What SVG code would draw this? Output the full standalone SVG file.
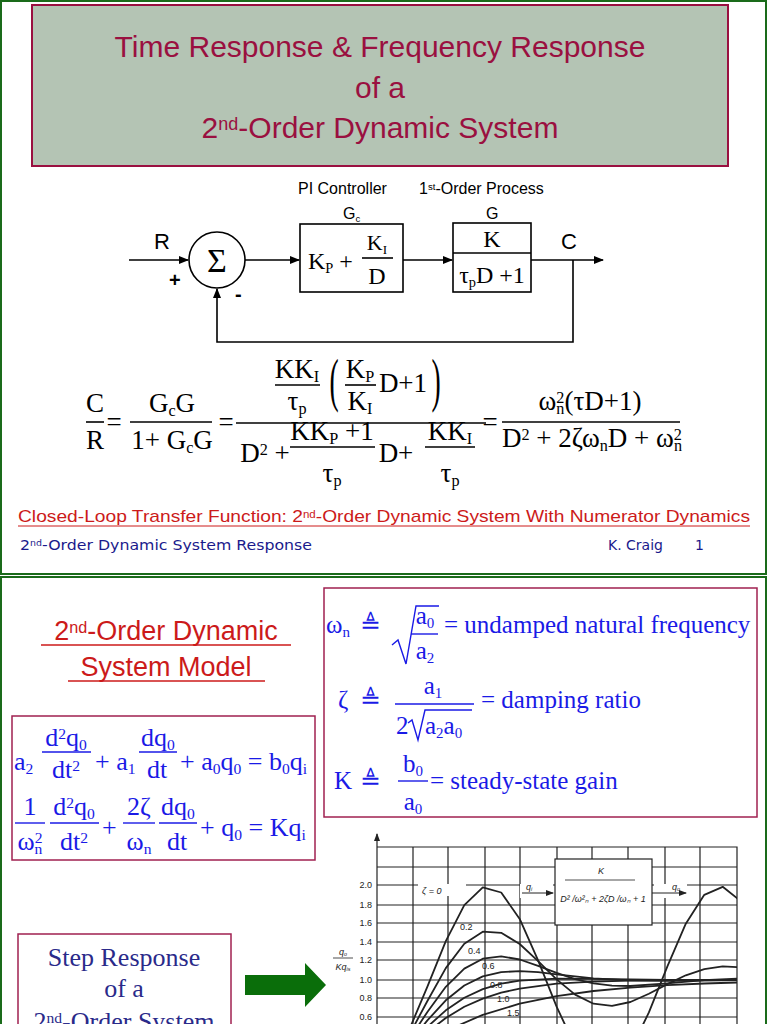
<svg xmlns="http://www.w3.org/2000/svg" width="768" height="1024" viewBox="0 0 768 1024">
<defs>
<style>
.ser{font-family:"Liberation Serif",serif}
.san{font-family:"Liberation Sans",Arial,sans-serif}
.sb{font-size:60%;baseline-shift:-28%}
.sp{font-size:60%;baseline-shift:45%}
.ln{stroke:#000;stroke-width:1.6;fill:none}
.bl{fill:#1a1ae6}
.bln{stroke:#1a1ae6;stroke-width:1.4;fill:none}
.grid{stroke:#222;stroke-width:1.2;fill:none}
.crv{stroke:#222;stroke-width:1.8;fill:none;stroke-linejoin:round}
.gl{font-family:"Liberation Sans",Arial,sans-serif;font-size:9px;fill:#222}
</style>
<marker id="ar" markerWidth="10" markerHeight="10" refX="9" refY="5" orient="auto" markerUnits="userSpaceOnUse"><path d="M0,1 L10,5 L0,9 z" fill="#000"/></marker>
<marker id="ar2" markerWidth="8" markerHeight="8" refX="7" refY="4" orient="auto" markerUnits="userSpaceOnUse"><path d="M0,1 L8,4 L0,7 z" fill="#222"/></marker>
<clipPath id="gc"><rect x="377" y="847" width="360" height="177"/></clipPath>
</defs>
<rect width="768" height="1024" fill="#fff"/>
<rect x="1" y="1" width="765" height="573" fill="none" stroke="#1a6b1a" stroke-width="2"/>
<path d="M1,1024 V577 H766 V1024" fill="none" stroke="#1a6b1a" stroke-width="2"/>

<g id="title">
<rect x="32" y="5" width="696" height="161" fill="#b4c4b4" stroke="#9a1040" stroke-width="2"/>
<g class="san" font-size="30" fill="#9a1040" text-anchor="middle">
<text x="380" y="57">Time Response &amp; Frequency Response</text>
<text x="380" y="98">of a</text>
<text x="380" y="138">2<tspan class="sp">nd</tspan>-Order Dynamic System</text>
</g>
</g>

<g id="labels" class="san" font-size="16">
<text x="298" y="194">PI Controller</text>
<text x="419" y="194">1<tspan class="sp">st</tspan>-Order Process</text>
<text x="343" y="219">G<tspan class="sb">c</tspan></text>
<text x="486" y="219">G</text>
<text x="154" y="249" font-size="22">R</text>
<text x="561" y="249" font-size="22">C</text>
<text x="169" y="287" font-size="20" font-weight="bold">+</text>
<text x="235" y="301" font-size="20" font-weight="bold">-</text>
</g>

<g id="sum">
<circle cx="217" cy="260" r="28" class="ln" stroke-width="2"/>
<text x="217" y="272" text-anchor="middle" class="ser" font-size="34">Σ</text>
</g>
<g id="pi">
<rect x="300" y="224" width="103" height="68" class="ln" stroke-width="2"/>
<text x="308" y="269" class="ser" font-size="24">K<tspan class="sb">P</tspan> +</text>
<text x="377" y="250" class="ser" font-size="22" text-anchor="middle">K<tspan class="sb">I</tspan></text>
<line x1="362" y1="258" x2="393" y2="258" class="ln" stroke-width="1.2"/>
<text x="377" y="284" class="ser" font-size="24" text-anchor="middle">D</text>
</g>
<g id="proc">
<rect x="453" y="223" width="78" height="69" class="ln" stroke-width="2"/>
<line x1="453" y1="253" x2="531" y2="253" class="ln" stroke-width="1"/>
<text x="492" y="247" class="ser" font-size="24" text-anchor="middle">K</text>
<text x="492" y="283" class="ser" font-size="24" text-anchor="middle">τ<tspan class="sb">p</tspan>D +1</text>
</g>
<g id="connectors" class="ln" stroke-width="2">
<line x1="129" y1="260" x2="188" y2="260" marker-end="url(#ar)"/>
<line x1="245" y1="260" x2="299" y2="260" marker-end="url(#ar)"/>
<line x1="403" y1="260" x2="452" y2="260" marker-end="url(#ar)"/>
<line x1="531" y1="260" x2="603" y2="260" marker-end="url(#ar)"/>
<polyline points="573,260 573,342 217,342 217,289" marker-end="url(#ar)"/>
</g>

<g id="tf" class="ser" font-size="27" text-anchor="middle">
<text x="95" y="412">C</text><line x1="86" y1="422" x2="104" y2="422" class="ln"/><text x="95" y="449">R</text>
<text x="114" y="431">=</text>
<text x="172" y="412">G<tspan class="sb">c</tspan>G</text><line x1="130" y1="422" x2="212" y2="422" class="ln"/><text x="172" y="449">1+ G<tspan class="sb">c</tspan>G</text>
<text x="226" y="431">=</text>
<text x="297" y="378">KK<tspan class="sb">I</tspan></text><line x1="275" y1="385" x2="320" y2="385" class="ln"/><text x="297" y="410">τ<tspan class="sb">p</tspan></text>
<text x="334" y="400" font-size="46" transform="translate(334 400) scale(0.6 1.3) translate(-334 -400)">(</text>
<text x="360" y="378">K<tspan class="sb">P</tspan></text><line x1="345" y1="385" x2="376" y2="385" class="ln"/><text x="360" y="410">K<tspan class="sb">I</tspan></text>
<text x="403" y="392">D+1</text>
<text x="436" y="400" font-size="46" transform="translate(436 400) scale(0.6 1.3) translate(-436 -400)">)</text>
<line x1="236" y1="423" x2="486" y2="423" class="ln"/>
<text x="265" y="462">D<tspan class="sp">2</tspan> +</text>
<text x="332" y="440">KK<tspan class="sb">P</tspan> +1</text><line x1="290" y1="447" x2="375" y2="447" class="ln"/><text x="332" y="482">τ<tspan class="sb">p</tspan></text>
<text x="396" y="462">D+</text>
<text x="450" y="440">KK<tspan class="sb">I</tspan></text><line x1="425" y1="447" x2="475" y2="447" class="ln"/><text x="450" y="482">τ<tspan class="sb">p</tspan></text>
<text x="490" y="431">=</text>
<text x="590" y="410">ω<tspan class="sp">2</tspan><tspan class="sb" dx="-8">n</tspan>(τD+1)</text>
<line x1="502" y1="422" x2="680" y2="422" class="ln"/>
<text x="592" y="447">D<tspan class="sp">2</tspan> + 2ζω<tspan class="sb">n</tspan>D + ω<tspan class="sp">2</tspan><tspan class="sb" dx="-8">n</tspan></text>
</g>

<g id="caption">
<text x="18" y="522" class="san" font-size="17" fill="#cc1a1a" textLength="732" lengthAdjust="spacingAndGlyphs">Closed-Loop Transfer Function: 2<tspan class="sp">nd</tspan>-Order Dynamic System With Numerator Dynamics</text>
<line x1="18" y1="526" x2="750" y2="526" stroke="#cc1a1a" stroke-width="1"/>
<g font-family="'DejaVu Sans',sans-serif" font-size="14" fill="#1a1a8c">
<text x="20" y="550" textLength="292" lengthAdjust="spacingAndGlyphs">2<tspan class="sp">nd</tspan>-Order Dynamic System Response</text>
<text x="608" y="550">K. Craig</text>
<text x="695" y="550">1</text>
</g>
</g>

<g id="model-title" class="san" font-size="27" fill="#cc1a1a" text-anchor="middle">
<text x="166" y="640">2<tspan class="sp">nd</tspan>-Order Dynamic</text>
<line x1="41" y1="645" x2="291" y2="645" stroke="#cc1a1a" stroke-width="1.5"/>
<text x="166" y="676">System Model</text>
<line x1="68" y1="681" x2="265" y2="681" stroke="#cc1a1a" stroke-width="1.5"/>
</g>

<g id="ode" class="ser bl" font-size="26">
<rect x="12" y="716" width="303" height="144" fill="none" stroke="#a02050" stroke-width="1.5"/>
<text x="14" y="770">a<tspan class="sb">2</tspan></text>
<text x="66" y="746" text-anchor="middle">d<tspan class="sp">2</tspan>q<tspan class="sb">0</tspan></text>
<line x1="42" y1="752" x2="91" y2="752" class="bln"/>
<text x="66" y="778" text-anchor="middle">dt<tspan class="sp">2</tspan></text>
<text x="95" y="770">+ a<tspan class="sb">1</tspan></text>
<text x="158" y="746" text-anchor="middle">dq<tspan class="sb">0</tspan></text>
<line x1="139" y1="752" x2="177" y2="752" class="bln"/>
<text x="157" y="778" text-anchor="middle">dt</text>
<text x="180" y="770">+ a<tspan class="sb">0</tspan>q<tspan class="sb">0</tspan> = b<tspan class="sb">0</tspan>q<tspan class="sb">i</tspan></text>
<text x="30" y="815" text-anchor="middle">1</text>
<line x1="15" y1="823" x2="45" y2="823" class="bln"/>
<text x="30" y="850" text-anchor="middle">ω<tspan class="sp">2</tspan><tspan class="sb" dx="-8">n</tspan></text>
<text x="74" y="815" text-anchor="middle">d<tspan class="sp">2</tspan>q<tspan class="sb">0</tspan></text>
<line x1="50" y1="823" x2="99" y2="823" class="bln"/>
<text x="74" y="850" text-anchor="middle">dt<tspan class="sp">2</tspan></text>
<text x="102" y="836">+</text>
<text x="139" y="815" text-anchor="middle">2ζ</text>
<line x1="123" y1="823" x2="155" y2="823" class="bln"/>
<text x="139" y="850" text-anchor="middle">ω<tspan class="sb">n</tspan></text>
<text x="178" y="815" text-anchor="middle">dq<tspan class="sb">0</tspan></text>
<line x1="159" y1="823" x2="197" y2="823" class="bln"/>
<text x="177" y="850" text-anchor="middle">dt</text>
<text x="200" y="836">+ q<tspan class="sb">0</tspan> = Kq<tspan class="sb">i</tspan></text>
</g>

<g id="defs-box" class="ser bl" font-size="25">
<rect x="324" y="588" width="433" height="229" fill="none" stroke="#a02050" stroke-width="1.5"/>
<text x="326" y="633">ω<tspan class="sb">n</tspan></text>
<text x="360" y="633">≜</text>
<path d="M392,645 l6,-5 l8,24 l10,-58 h23" class="bln" stroke-width="1.6"/>
<text x="425" y="624" text-anchor="middle">a<tspan class="sb">0</tspan></text>
<line x1="411" y1="634" x2="438" y2="634" class="bln"/>
<text x="425" y="659" text-anchor="middle">a<tspan class="sb">2</tspan></text>
<text x="444" y="633">= undamped natural frequency</text>
<text x="338" y="708">ζ</text>
<text x="360" y="708">≜</text>
<text x="433" y="694" text-anchor="middle">a<tspan class="sb">1</tspan></text>
<line x1="395" y1="704" x2="474" y2="704" class="bln" stroke-width="2"/>
<text x="396" y="734">2</text>
<path d="M408,723 l4,-3 l6,20 l7,-30 h47" class="bln" stroke-width="1.4"/>
<text x="425" y="734">a<tspan class="sb">2</tspan>a<tspan class="sb">0</tspan></text>
<text x="481" y="708">= damping ratio</text>
<text x="334" y="789">K</text>
<text x="360" y="789">≜</text>
<text x="413" y="772" text-anchor="middle">b<tspan class="sb">0</tspan></text>
<line x1="398" y1="781" x2="428" y2="781" class="bln"/>
<text x="413" y="810" text-anchor="middle">a<tspan class="sb">0</tspan></text>
<text x="430" y="789">= steady-state gain</text>
</g>

<g id="step-box">
<rect x="18" y="934" width="213" height="100" fill="none" stroke="#a02050" stroke-width="1.5"/>
<g class="ser" font-size="26" fill="#2a2a8a" text-anchor="middle">
<text x="124" y="966">Step Response</text>
<text x="124" y="997">of a</text>
<text x="124" y="1030">2<tspan class="sp">nd</tspan>-Order System</text>
</g>
</g>
<g id="green-arrow"><path d="M245,975 H305 V963 L326,985 L305,1007 V995 H245 Z" fill="#0a6e0a"/></g>

<g id="chart">
<g class="grid">
<path d="M377,847 H737 V1024 M377,867 H737 M377,885 H737 M377,905 H737 M377,923 H737 M377,942 H737 M377,960 H737 M377,980 H737 M377,998 H737 M377,1017 H737"/>
<path d="M413,847 V1024 M448,847 V1024 M485,847 V1024 M520,847 V1024 M557,847 V1024 M592,847 V1024 M628,847 V1024 M665,847 V1024 M700,847 V1024"/>
<line x1="377" y1="1024" x2="377" y2="834" marker-end="url(#ar2)"/>
</g>
<g class="gl" text-anchor="end">
<text x="372" y="888">2.0</text><text x="372" y="908">1.8</text><text x="372" y="926">1.6</text><text x="372" y="945">1.4</text><text x="372" y="963">1.2</text><text x="372" y="983">1.0</text><text x="372" y="1001">0.8</text><text x="372" y="1020">0.6</text>
</g>
<g class="gl" text-anchor="middle" font-style="italic">
<text x="343" y="955">q<tspan class="sb">o</tspan></text>
<line x1="333" y1="958" x2="353" y2="958" stroke="#222" stroke-width="0.8"/>
<text x="343" y="970">Kq<tspan class="sb">is</tspan></text>
</g>
<g clip-path="url(#gc)">
<polyline class="crv" points="372,1073.5 390.5,1062.1 408.9,1030.5 427.4,986.6 445.8,941.1 464.3,905.1 482.8,887.4 501.2,892.5 519.7,918.9 538.1,960.3 556.6,1006.6 575.1,1046.3 593.5,1069.8 612,1071.4 630.4,1050.5 648.9,1012.4 667.4,966.3 685.8,923.7 704.3,894.8 722.7,886.8 741.2,901.5"/>
<polyline class="crv" points="372,1073.5 408.9,1035.6 427.4,1001 445.8,968.1 464.3,943.7 482.8,931.7 501.2,932.8 519.7,944 538.1,961.1 556.6,979.4 575.1,994.6 593.5,1003.7 612,1005.8 630.4,1002 648.9,993.8 667.4,984.1 685.8,975.3 704.3,969.1 722.7,966.4 741.2,967.3"/>
<polyline class="crv" points="372,1073.5 408.9,1039.8 427.4,1012 445.8,986.8 464.3,968.6 482.8,958.7 501.2,956.3 519.7,959.5 538.1,965.8 556.6,972.9 575.1,979.1 593.5,983.4 612,985.6 630.4,986 667.4,983.4 704.3,980.1 741.2,978.5"/>
<polyline class="crv" points="372,1073.5 408.9,1043.4 427.4,1020.4 445.8,1000.3 464.3,985.5 482.8,976.4 501.2,972.1 519.7,971.2 538.1,972.2 556.6,974.3 593.5,978.3 630.4,980.4 667.4,980.8 741.2,980"/>
<polyline class="crv" points="372,1073.5 408.9,1046.3 427.4,1026.9 445.8,1010.3 464.3,997.8 482.8,989.1 501.2,983.6 519.7,980.7 556.6,978.6 593.5,978.9 667.4,979.8 741.2,980"/>
<polyline class="crv" points="372,1073.5 408.9,1048.8 427.4,1032.2 445.8,1018 464.3,1006.8 482.8,998.6 501.2,992.7 519.7,988.6 556.6,983.7 593.5,981.6 630.4,980.7 667.4,980.3 741.2,980"/>
<polyline class="crv" points="372,1073.5 408.9,1053.6 445.8,1030.9 482.8,1014.8 519.7,1003.7 556.6,996.2 593.5,991 630.4,987.6 667.4,985.1 704.3,983.5 741.2,982.4"/>
</g>
<g class="gl" font-size="10">
<rect x="418" y="884" width="48" height="12" fill="#fff"/>
<text x="422" y="894" font-style="italic">ζ = 0</text>
<text x="460" y="930">0.2</text><text x="468" y="954">0.4</text><text x="482" y="969">0.6</text><text x="490" y="988">0.8</text><text x="497" y="1002">1.0</text><text x="507" y="1016">1.5</text>
</g>
<g id="chart-block">
<rect x="555" y="859" width="97" height="66" fill="#fff" stroke="#222" stroke-width="1.2"/>
<text x="601" y="874" class="gl" font-style="italic" text-anchor="middle">K</text>
<line x1="565" y1="880" x2="635" y2="880" stroke="#222" stroke-width="0.8"/>
<text x="603" y="902" class="gl" font-size="8" font-style="italic" text-anchor="middle">D² /ω²ₙ + 2ζD /ωₙ + 1</text>
<rect x="520" y="884" width="33" height="14" fill="#fff"/>
<rect x="654" y="884" width="33" height="14" fill="#fff"/>
<line x1="522" y1="893" x2="553" y2="893" stroke="#222" stroke-width="1" marker-end="url(#ar2)"/>
<line x1="652" y1="893" x2="686" y2="893" stroke="#222" stroke-width="1" marker-end="url(#ar2)"/>
<text x="526" y="890" class="gl" font-style="italic">q<tspan class="sb">i</tspan></text>
<text x="672" y="890" class="gl" font-style="italic">q<tspan class="sb">o</tspan></text>
</g>
</g>
</svg>
